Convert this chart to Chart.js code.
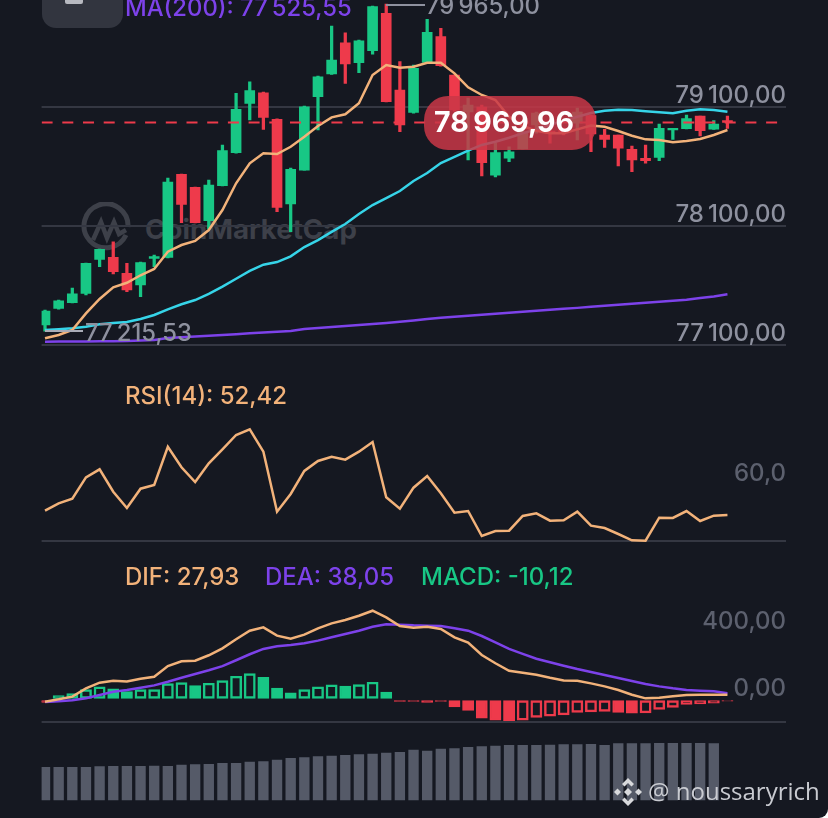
<!DOCTYPE html>
<html>
<head>
<meta charset="utf-8">
<title>BTC chart</title>
<script src="https://cdn.jsdelivr.net/npm/chart.js@4/dist/chart.umd.min.js"></script>
<style>
  html, body { margin: 0; padding: 0; background: #fff; }
  #page { position: relative; width: 828px; height: 818px; overflow: hidden; background: #151821; border-bottom-right-radius: 9px; font-family: Inter, sans-serif; }
  #page div, #page svg, #page canvas { position: absolute; }
  .txt { white-space: nowrap; font-weight: 500; line-height: 1; }
</style>
</head>
<body>
<div id="page">
  <div style="left:42px;top:-30px;width:81px;height:58px;background:#32353f;border-radius:14px"></div>
  <div style="left:65px;top:0;width:18px;height:4px;background:#b7b9c0;border-radius:0 0 2px 2px"></div>

  <!-- watermark sits under the chart -->
  <svg style="left:80px;top:202px" width="52" height="52" viewBox="0 0 52 52" fill="none" stroke="#3d4049" stroke-width="5">
    <path d="M46 33 A22 22 0 1 1 48 25"/>
    <path d="M13 38 L21 20 L27 36 L34 20 L39 32 L46 28" stroke-width="4.5"/>
  </svg>
  <div class="txt" style="left:145px;top:216px;font-size:27.7px;font-weight:700;color:#3d4049">CoinMarketCap</div>

  <canvas id="chart" width="828" height="818" style="left:0;top:0"></canvas>

  <div class="txt" style="left:125px;top:-4px;font-size:23.8px;color:#7d42ea">MA(200): 77&#8201;525,55</div>
  <div class="txt" style="left:426px;top:-6px;font-size:23.8px;color:#8e919f">79&#8201;965,00</div>
  <div style="left:386px;top:4px;width:39px;height:1.5px;background:#8e919f"></div>
  <div class="txt" style="left:85px;top:321px;font-size:23.8px;color:#8e919f">77&#8201;215,53</div>
  <div style="left:45px;top:330px;width:38px;height:2px;background:#a9acb7"></div>

  <div class="txt" style="left:125px;top:384px;font-size:24px;color:#f2b27a">RSI(14): 52,42</div>
  <div class="txt" style="left:125px;top:565px;font-size:24px;color:#f2b27a">DIF: 27,93</div>
  <div class="txt" style="left:265px;top:565px;font-size:24px;color:#7d42ea">DEA: 38,05</div>
  <div class="txt" style="left:421px;top:565px;font-size:24px;color:#18c785">MACD: -10,12</div>

  <div style="left:424px;top:96px;width:172px;height:54px;border-radius:24px;background:rgba(201,55,70,0.85)"></div>
  <div class="txt" style="left:434px;top:108px;font-size:28.5px;font-weight:700;color:#fff">78&#8201;969,96</div>

  <svg style="left:613px;top:777px" width="30" height="30" viewBox="0 0 30 30" fill="#d8d9dc">
    <path d="M15 1 L21 7 L18.5 9.5 L15 6 L11.5 9.5 L9 7 Z"/>
    <path d="M15 29 L21 23 L18.5 20.5 L15 24 L11.5 20.5 L9 23 Z"/>
    <path d="M1 15 L4.5 11.5 L8 15 L4.5 18.5 Z"/>
    <path d="M29 15 L25.5 11.5 L22 15 L25.5 18.5 Z"/>
    <path d="M15 11 L19 15 L15 19 L11 15 Z"/>
  </svg>
  <div class="txt" style="left:648px;top:779px;font-family:'Open Sans',sans-serif;font-size:24px;font-weight:400;color:#c9cbd1">@ noussaryrich</div>
</div>

<script>
// candles
const opens = [
  77268, 77408, 77455, 77534, 77820, 77837, 77702, 77604, 77828, 77837,
  78534, 78425, 78144, 78439, 78716, 79131, 79220, 78997, 78285, 78570,
  79186, 79377, 79640, 79472, 79573, 79887, 79243, 79055, 79475, 79691,
  79369, 79058, 79100, 78528, 78669, 78747, 78949, 78898, 78907, 78965,
  79027, 78865, 78865, 78744, 78669, 78677, 78907, 78918, 79024, 78913, 78985
];
const highs = [
  77394, 77478, 77579, 77789, 77907, 77968, 77786, 77797, 77856, 78503,
  78537, 78428, 78486, 78781, 79215, 79312, 79226, 79000, 78587, 79108,
  79360, 79781, 79724, 79663, 79949, 79965, 79481, 79453, 79837, 79761,
  79369, 79175, 79117, 78797, 78766, 78932, 79058, 78907, 78923, 79091,
  79033, 78912, 78865, 78772, 78781, 78957, 78921, 79033, 79024, 78985, 79024
];
const lows = [
  77215.53, 77402, 77453, 77520, 77758, 77697, 77548, 77506, 77758, 77831,
  78128, 78125, 78075, 78436, 78713, 78991, 78912, 78220, 78052, 78570,
  78907, 79373, 79299, 79388, 79543, 79142, 78892, 79049, 79470, 79444,
  79066, 78655, 78520, 78512, 78640, 78747, 78881, 78797, 78865, 78823,
  78724, 78761, 78604, 78556, 78627, 78649, 78828, 78916, 78856, 78911, 78921
];
const closes = [
  77386, 77472, 77529, 77786, 77904, 77716, 77562, 77792, 77842, 78470,
  78282, 78128, 78444, 78733, 79081, 79237, 79013, 78257, 78576, 79102,
  79354, 79495, 79461, 79657, 79943, 79144, 78949, 79425, 79728, 79447,
  79075, 79117, 78632, 78716, 78724, 78890, 79049, 78881, 78890, 79058,
  78873, 78828, 78753, 78655, 78649, 78921, 78921, 79002, 78901, 78957, 78969.96
];

// moving averages
const maFast = [
  77156, 77184, 77226, 77366, 77487, 77585, 77623, 77686, 77739, 77884,
  77940, 77974, 78066, 78234, 78459, 78627, 78711, 78705, 78766, 78850,
  78940, 79013, 79039, 79131, 79369, 79453, 79430, 79439, 79472, 79472,
  79383, 79265, 79201, 79159, 79018, 78940, 78901, 78879, 78879, 78912,
  78944, 78934, 78898, 78859, 78828, 78823, 78803, 78814, 78831, 78865, 78907
];
const maSlow = [
  77226, 77232, 77240, 77254, 77274, 77285, 77293, 77318, 77352, 77400,
  77442, 77478, 77529, 77590, 77657, 77722, 77775, 77797, 77845, 77923,
  77982, 78050, 78117, 78201, 78276, 78335, 78394, 78478, 78545, 78629,
  78680, 78734, 78781, 78808, 78842, 78879, 78912, 78949, 78985, 79018,
  79049, 79069, 79077, 79075, 79064, 79055, 79047, 79069, 79081, 79075, 79060
];
const ma200 = [
  77128, 77129, 77130, 77130, 77131, 77132, 77134, 77138, 77142, 77159,
  77165, 77171, 77177, 77184, 77191, 77199, 77205, 77211, 77218, 77234,
  77243, 77251, 77260, 77268, 77276, 77285, 77295, 77306, 77318, 77329,
  77337, 77345, 77354, 77362, 77371, 77379, 77387, 77396, 77404, 77412,
  77421, 77429, 77438, 77446, 77455, 77463, 77471, 77480, 77495, 77508, 77525.55
];
const lastPrice = 78969.96;

const rsi = [
  53.51, 55.38, 56.54, 61.94, 63.96, 58.31, 54.19, 59.07, 60.00, 69.67,
  64.47, 60.76, 65.48, 69.02, 72.63, 74.07, 68.41, 53.26, 57.73, 63.54,
  66.06, 67.15, 66.39, 68.41, 70.86, 56.89, 54.02, 59.32, 62.27, 57.90,
  53.01, 53.43, 47.12, 48.38, 48.46, 52.17, 52.85, 50.98, 51.09, 53.26,
  49.72, 49.14, 47.63, 46.04, 45.93, 51.74, 51.67, 53.43, 50.91, 52.25, 52.42
];

const dif = [
  -13, 1, 17, 67, 101, 113, 109, 125, 137, 201,
  230, 233, 266, 308, 362, 414, 434, 384, 366, 390,
  428, 458, 478, 504, 534, 494, 442, 432, 438, 424,
  374, 342, 268, 218, 173, 161, 149, 131, 115, 113,
  97, 79, 57, 29, 7, 11, 19, 27, 29, 29, 27.93
];
const dea = [
  -15, -11, -5, 7, 27, 47, 57, 71, 85, 107,
  131, 153, 176, 201, 236, 272, 304, 320, 328, 338,
  354, 374, 394, 414, 438, 452, 450, 446, 444, 442,
  428, 414, 382, 344, 304, 274, 245, 224, 203, 183,
  165, 147, 129, 111, 93, 79, 67, 57, 53, 49, 38.05
];
const macd = [
  -18, 24, 36, 60, 76, 64, 48, 60, 60, 96,
  102, 84, 98, 114, 140, 156, 134, 68, 40, 60,
  76, 88, 80, 90, 104, 44, -12, -12, -18, -12,
  -44, -66, -112, -124, -128, -124, -108, -100, -92, -78,
  -74, -72, -78, -82, -80, -60, -48, -30, -26, -22, -10.12
];

const volumes = [
  32.7, 32.7, 32.7, 32.7, 33.3, 33.7, 33.7, 33.7, 34, 33.7,
  35, 35.3, 35.7, 36.7, 36.7, 38, 38.3, 40, 41.7, 42.3,
  43.3, 44, 44.7, 45.3, 46, 47, 47.7, 50, 49, 51,
  51.3, 52.7, 53.3, 54, 54.7, 54.7, 54.7, 55, 55.3, 55.3,
  55.7, 54.7, 56.3, 56.3, 56.3, 56.7, 56.7, 56.7, 56.7, 56.3
];

// axis ticks: value -> text, '' means line only
const priceTicks = [79100, 78100, 77100];
const priceLabels = ['79\u2009100,00', '78\u2009100,00', '77\u2009100,00'];
const rsiTicks = [60, 45.86];
const rsiLabels = ['60,0', ''];
const macdTicks = [400, 0, -135.3];
const macdLabels = ['400,00', '0,00', ''];

const GREEN = '#18c785';
const RED = '#ee3a4b';
const GRID = '#343742';
const FAINT = 'rgba(0,0,0,0)';

Chart.defaults.font.family = 'Inter, sans-serif';

const pts = (arr) => arr.map((y, i) => ({ x: i, y }));
const candleColor = closes.map((c, i) => (c >= opens[i] ? GREEN : RED));

// a bar that grew since the last one is drawn hollow
const macdHollow = macd.map((v, i) => i > 0 && v >= macd[i - 1]);
const macdColor = macd.map((v) => (v >= 0 ? GREEN : RED));

function lineSet(values, color, axis, order) {
  return {
    type: 'line', data: pts(values), yAxisID: axis, order,
    borderColor: color, borderWidth: 2.5, pointRadius: 0, tension: 0
  };
}

// every pane shares the full canvas height; each axis is pinned by one value and its pixels per unit
function pinned(value, pixel, pxPerUnit) {
  return { max: value + pixel / pxPerUnit, min: value - (818 - pixel) / pxPerUnit };
}

function paneAxis(range, ticks, labels, color, gridFor) {
  return {
    position: 'right', min: range.min, max: range.max,
    border: { display: false },
    grid: { drawTicks: false, lineWidth: 2, color: (ctx) => (gridFor(ctx.tick.value) ? GRID : FAINT) },
    afterBuildTicks: (scale) => { scale.ticks = ticks.map((value) => ({ value })); },
    afterFit: (scale) => { scale.paddingTop = 0; scale.paddingBottom = 0; },
    ticks: {
      mirror: true, padding: 0, labelOffset: -11, autoSkip: false, color,
      font: { size: 24, weight: 500 },
      callback: (value, index) => labels[index]
    }
  };
}

new Chart(document.getElementById('chart'), {
  type: 'bar',
  data: {
    datasets: [
      { data: volumes.map((y, i) => ({ x: i, y })), yAxisID: 'vol', order: 6, backgroundColor: '#555a68', barThickness: 9.7, grouped: false },
      { data: highs.map((h, i) => ({ x: i, y: [lows[i], h] })), yAxisID: 'price', order: 5, backgroundColor: candleColor, barThickness: 2.6, grouped: false },
      { data: opens.map((o, i) => ({ x: i, y: [o, closes[i]] })), yAxisID: 'price', order: 4, backgroundColor: candleColor, barThickness: 10, grouped: false },
      {
        data: pts(macd), yAxisID: 'macd', order: 4, barThickness: 11.2, grouped: false, borderSkipped: false,
        backgroundColor: macd.map((v, i) => (macdHollow[i] ? 'transparent' : macdColor[i])),
        borderColor: macdColor, borderWidth: 1.8
      },
      lineSet(ma200, '#7d42ea', 'price', 3),
      lineSet(maSlow, '#36d4e8', 'price', 3),
      lineSet(maFast, '#f2b27a', 'price', 2),
      lineSet(rsi, '#f2b27a', 'rsi', 2),
      lineSet(dea, '#7d42ea', 'macd', 2),
      lineSet(dif, '#f2b27a', 'macd', 1),
      {
        type: 'line', yAxisID: 'price', order: 0, pointRadius: 0,
        data: [{ x: -0.25, y: lastPrice }, { x: 53.85, y: lastPrice }],
        borderColor: RED, borderWidth: 2, borderDash: [11, 9.7]
      }
    ]
  },
  options: {
    responsive: false,
    animation: false,
    layout: { padding: { left: 41.6, right: 42, top: 0, bottom: 0 } },
    plugins: { legend: { display: false }, tooltip: { enabled: false } },
    scales: {
      x: { type: 'linear', min: -0.25, max: 54.29, offset: false, display: false },
      price: paneAxis(pinned(79100, 107, 0.119), priceTicks, priceLabels, '#8e919f', () => true),
      rsi: paneAxis(pinned(60, 485, 3.96), rsiTicks, rsiLabels, '#5c606e', (v) => v !== 60),
      macd: paneAxis(pinned(0, 699.5, 0.16625), macdTicks, macdLabels, '#5c606e', (v) => v < 0),
      vol: { display: false, min: -18, max: 800 }
    }
  }
});
</script>
</body>
</html>
